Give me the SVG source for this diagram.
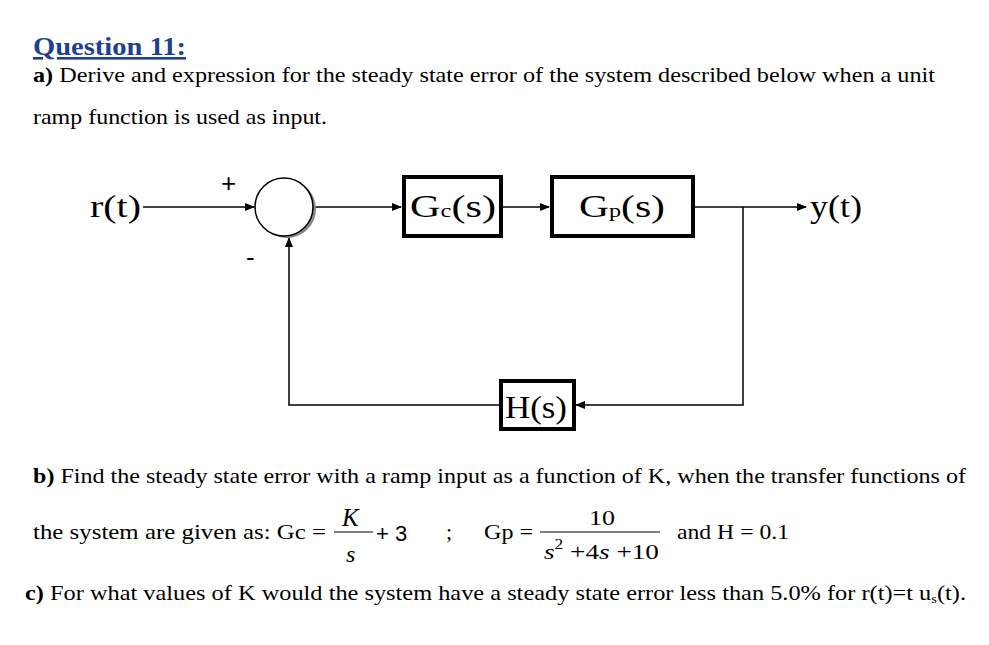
<svg xmlns="http://www.w3.org/2000/svg" width="989" height="645" viewBox="0 0 989 645">
<defs>
<marker id="ar" markerWidth="10" markerHeight="8" refX="9" refY="4" orient="auto" markerUnits="userSpaceOnUse"><path d="M0,0 L10,4 L0,8 z" fill="#000"/></marker>
<style>
text{font-family:"Liberation Serif",serif;fill:#000}
.t{font-size:22px}
.b{font-size:31px}
.box{fill:#fff;stroke:#000;stroke-width:4}
.ln{fill:none;stroke:#000;stroke-width:1.5}
</style>
</defs>
<rect width="989" height="645" fill="#fff"/>
<text x="33" y="55" textLength="153" lengthAdjust="spacingAndGlyphs" style="font-size:26px;font-weight:bold;fill:#1f3f8f;text-decoration:underline">Question 11:</text>
<text class="t" x="33" y="82" textLength="902" lengthAdjust="spacingAndGlyphs"><tspan font-weight="bold">a)</tspan> Derive and expression for the steady state error of the system described below when a unit</text>
<text class="t" x="33" y="124" textLength="294" lengthAdjust="spacingAndGlyphs">ramp function is used as input.</text>
<g id="connectors">
<line class="ln" x1="143" y1="207" x2="254" y2="207" marker-end="url(#ar)"/>
<line class="ln" x1="314" y1="207" x2="401" y2="207" marker-end="url(#ar)"/>
<line class="ln" x1="503" y1="207" x2="549" y2="207" marker-end="url(#ar)"/>
<line class="ln" x1="695" y1="207" x2="806" y2="207" marker-end="url(#ar)"/>
<polyline class="ln" points="743,207 743,405 576,405" marker-end="url(#ar)"/>
<polyline class="ln" points="500,405 289,405 289,238" marker-end="url(#ar)"/>
</g>
<g id="r"><text class="b" x="90" y="217" textLength="51" lengthAdjust="spacingAndGlyphs">r(t)</text></g>
<g id="sum"><circle cx="287" cy="209" r="29" fill="#888"/><circle cx="284" cy="207" r="29" fill="#fff" stroke="#000" stroke-width="1.5"/>
<text x="221" y="192" style="font-family:'Liberation Sans',sans-serif;font-size:26px">+</text>
<text x="246" y="266" style="font-family:'Liberation Sans',sans-serif;font-size:26px">-</text></g>
<g id="gc"><rect class="box" x="404" y="177" width="97" height="59"/><text class="b" x="410" y="217" textLength="86" lengthAdjust="spacingAndGlyphs">G<tspan font-size="18">c</tspan>(s)</text></g>
<g id="gp"><rect class="box" x="552" y="177" width="141" height="59"/><text class="b" x="579" y="217" textLength="86" lengthAdjust="spacingAndGlyphs">G<tspan font-size="18">p</tspan>(s)</text></g>
<g id="y"><text class="b" x="810" y="217" textLength="52" lengthAdjust="spacingAndGlyphs">y(t)</text></g>
<g id="h"><rect class="box" x="501" y="381" width="73" height="48"/><text class="b" x="505" y="418" textLength="62" lengthAdjust="spacingAndGlyphs">H(s)</text></g>
<text class="t" x="33" y="483" textLength="933" lengthAdjust="spacingAndGlyphs"><tspan font-weight="bold">b)</tspan> Find the steady state error with a ramp input as a function of K, when the transfer functions of</text>
<text class="t" x="33" y="539" textLength="293" lengthAdjust="spacingAndGlyphs">the system are given as:  Gc =</text>
<text x="342" y="526" style="font-size:25px;font-style:italic">K</text>
<line x1="334" y1="532" x2="373" y2="532" stroke="#000" stroke-width="1"/>
<text x="346" y="562" style="font-size:24px;font-style:italic">s</text>
<text x="376" y="541" style="font-family:'Liberation Sans',sans-serif;font-size:22px">+ 3</text>
<text class="t" x="446" y="539">;</text>
<text class="t" x="484" y="539" textLength="49" lengthAdjust="spacingAndGlyphs">Gp =</text>
<text class="t" x="589" y="525" textLength="26" lengthAdjust="spacingAndGlyphs">10</text>
<line x1="540" y1="532" x2="660" y2="532" stroke="#000" stroke-width="1"/>
<text class="t" x="544" y="559" textLength="115" lengthAdjust="spacingAndGlyphs"><tspan font-style="italic">s</tspan><tspan font-size="14" dy="-10">2</tspan><tspan dy="10"> +4</tspan><tspan font-style="italic">s</tspan> +10</text>
<text class="t" x="677" y="539" textLength="112" lengthAdjust="spacingAndGlyphs">and H = 0.1</text>
<text class="t" x="25" y="600" textLength="941" lengthAdjust="spacingAndGlyphs"><tspan font-weight="bold">c)</tspan>  For what values of K would the system have a steady state error less than 5.0% for r(t)=t u<tspan font-size="13" dy="3">s</tspan><tspan dy="-3">(t).</tspan></text>
</svg>
